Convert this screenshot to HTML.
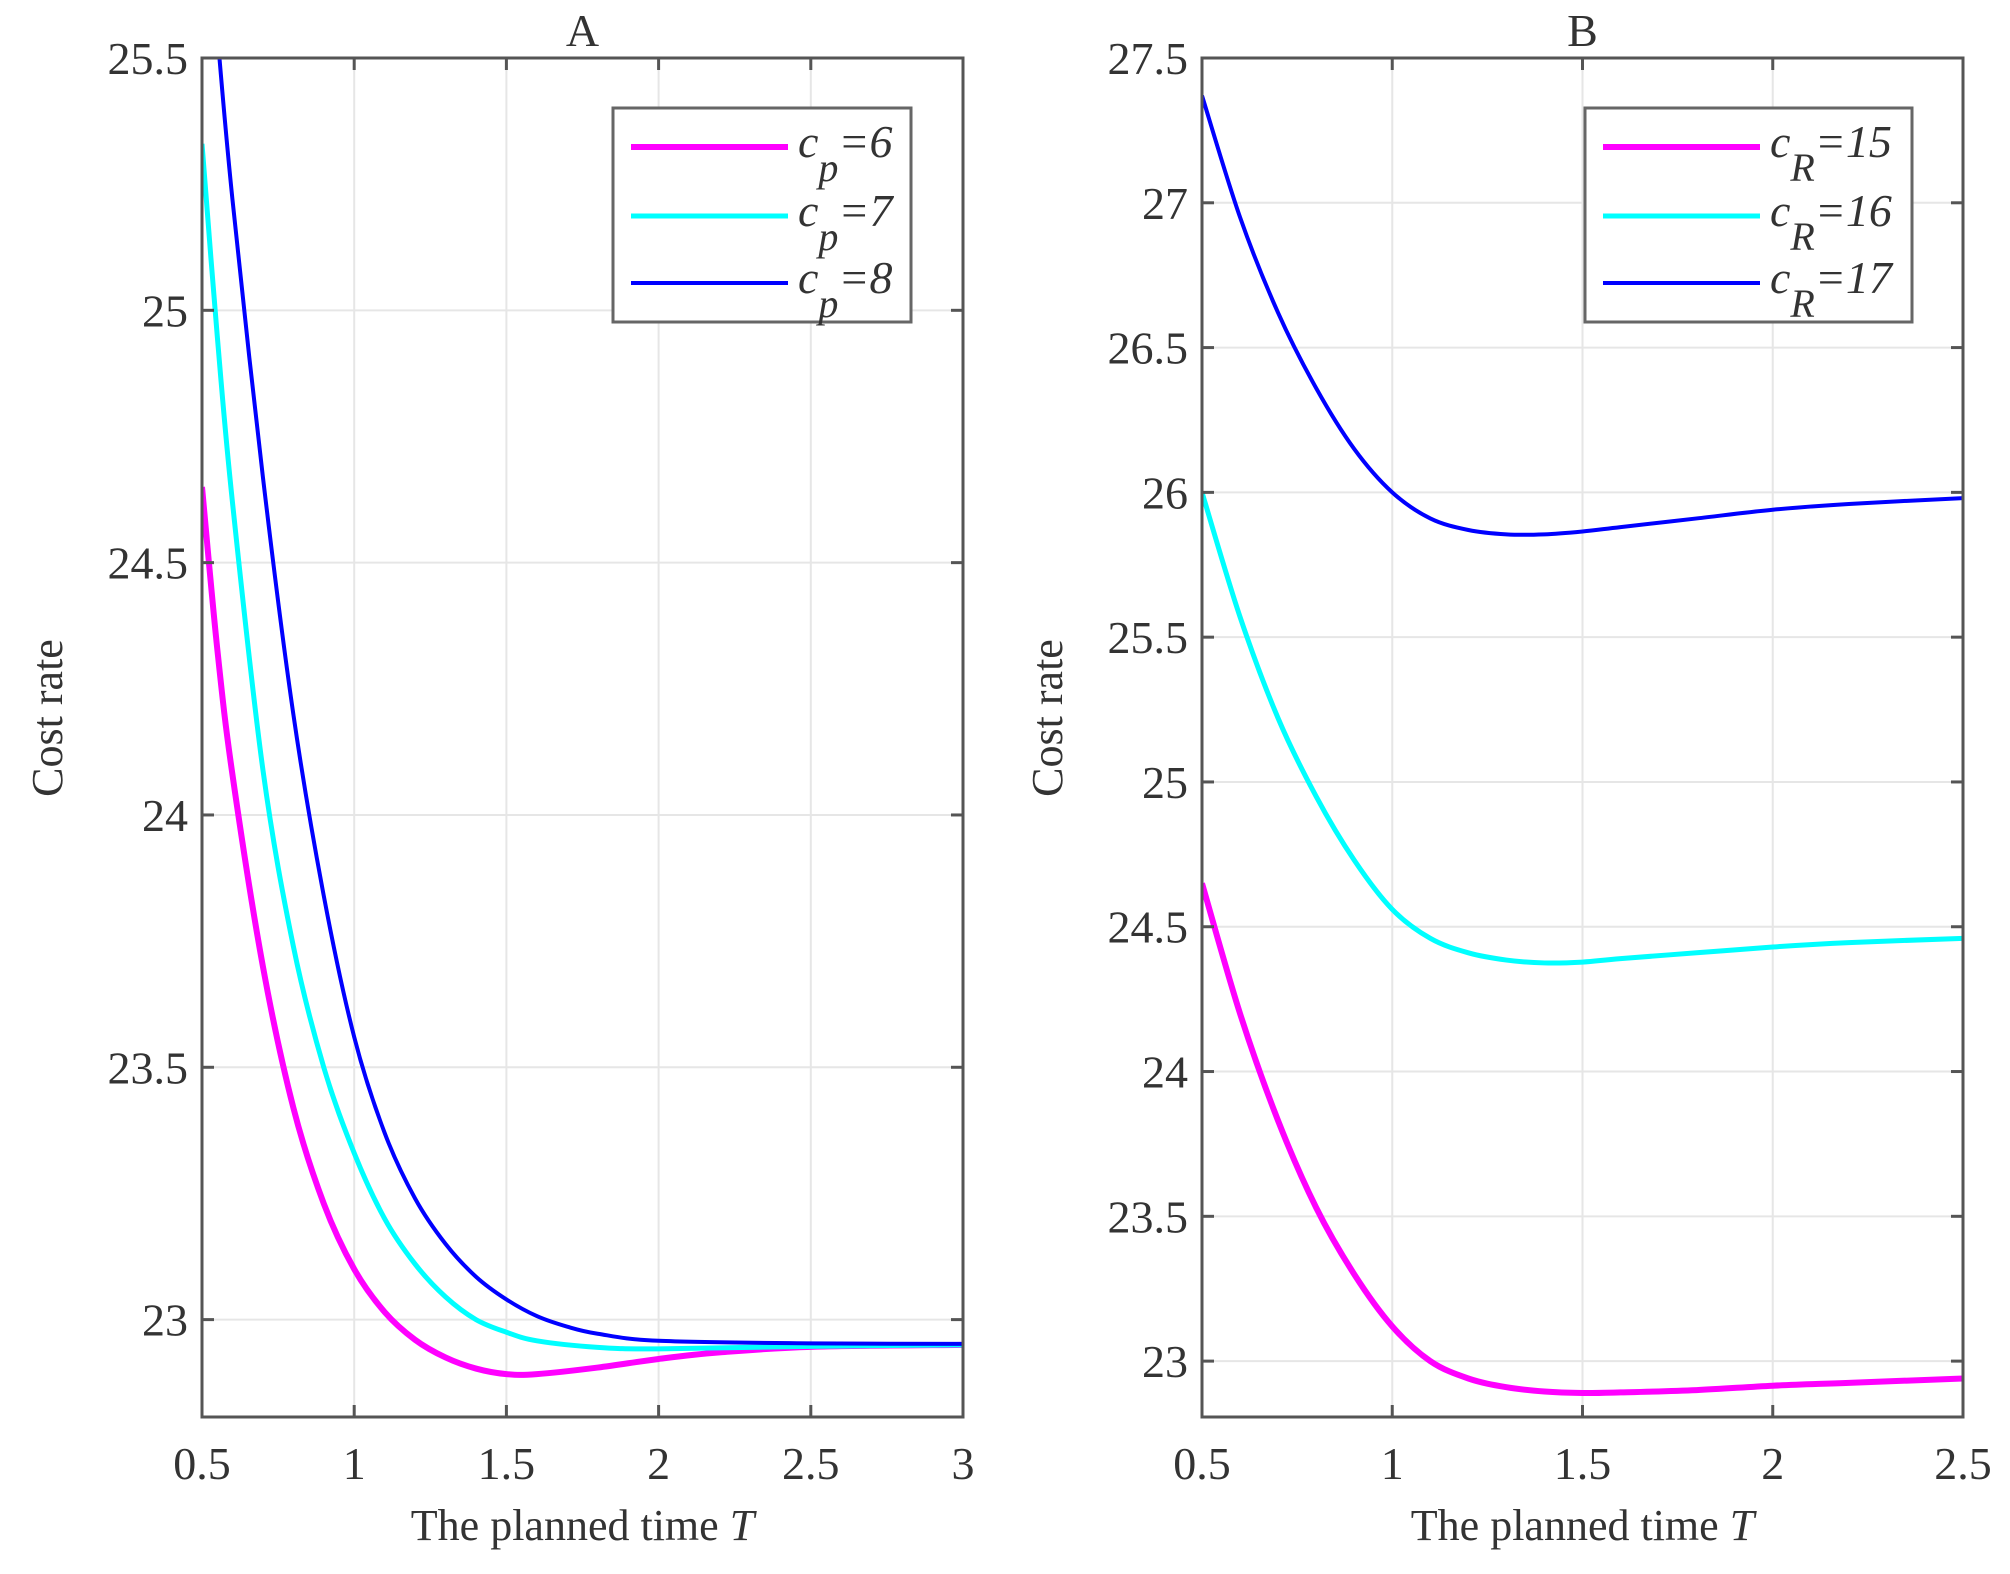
<!DOCTYPE html>
<html><head><meta charset="utf-8"><style>
html,body{margin:0;padding:0;background:#fff;}
svg{display:block;}
text{font-family:"Liberation Serif",serif;fill:#333;}
</style></head><body>
<svg id="s" width="2010" height="1574" viewBox="0 0 2010 1574" xmlns="http://www.w3.org/2000/svg"></svg>
<script>
const S=document.getElementById('s');
let out='';
function panel(o){
  const {L,R,T,B,x0,x1,y0,y1,xt,yt,title,ylx,series,leg}=o;
  const X=v=>L+(v-x0)/(x1-x0)*(R-L);
  const Y=v=>B-(v-y0)/(y1-y0)*(B-T);
  out+=`<defs><clipPath id="c${title}"><rect x="${L}" y="${T}" width="${R-L}" height="${B-T}"/></clipPath></defs>`;
  xt.forEach(v=>{out+=`<line x1="${X(v)}" x2="${X(v)}" y1="${T}" y2="${B}" stroke="#e6e6e6" stroke-width="2"/>`;});
  yt.forEach(v=>{out+=`<line x1="${L}" x2="${R}" y1="${Y(v)}" y2="${Y(v)}" stroke="#e6e6e6" stroke-width="2"/>`;});
  series.forEach(s=>{
    const p=s.pts.map(a=>[X(a[0]),Y(a[1])]);
    let d=`M${p[0][0]},${p[0][1]}`;
    for(let i=0;i<p.length-1;i++){
      const p0=p[Math.max(0,i-1)],p1=p[i],p2=p[i+1],p3=p[Math.min(p.length-1,i+2)];
      const c1=[p1[0]+(p2[0]-p0[0])/6,p1[1]+(p2[1]-p0[1])/6];
      const c2=[p2[0]-(p3[0]-p1[0])/6,p2[1]-(p3[1]-p1[1])/6];
      d+=` C${c1[0]},${c1[1]} ${c2[0]},${c2[1]} ${p2[0]},${p2[1]}`;
    }
    out+=`<path d="${d}" fill="none" stroke="${s.c}" stroke-width="${s.w}" stroke-linejoin="round" clip-path="url(#c${title})"/>`;
  });
  out+=`<rect x="${L}" y="${T}" width="${R-L}" height="${B-T}" fill="none" stroke="#555" stroke-width="3"/>`;
  xt.forEach(v=>{const x=X(v);out+=`<line x1="${x}" x2="${x}" y1="${B}" y2="${B-12}" stroke="#555" stroke-width="3"/><line x1="${x}" x2="${x}" y1="${T}" y2="${T+12}" stroke="#555" stroke-width="3"/>`;
    out+=`<text x="${x}" y="${B+62}" font-size="46" text-anchor="middle">${v}</text>`;});
  yt.forEach(v=>{const y=Y(v);out+=`<line x1="${L}" x2="${L+12}" y1="${y}" y2="${y}" stroke="#555" stroke-width="3"/><line x1="${R}" x2="${R-12}" y1="${y}" y2="${y}" stroke="#555" stroke-width="3"/>`;
    out+=`<text x="${L-14}" y="${y+16}" font-size="46" text-anchor="end">${v}</text>`;});
  out+=`<text x="${(L+R)/2}" y="46" font-size="46" text-anchor="middle">${title}</text>`;
  out+=`<text x="${(L+R)/2}" y="1540" font-size="44" text-anchor="middle">The planned time <tspan font-style="italic">T</tspan></text>`;
  out+=`<text transform="translate(${ylx},718) rotate(-90)" font-size="44" text-anchor="middle">Cost rate</text>`;
  const g=leg;
  out+=`<rect x="${g.x}" y="108" width="${g.w}" height="214" fill="#fff" stroke="#666" stroke-width="3"/>`;
  [147,216,283].forEach((y,i)=>{
    out+=`<line x1="${g.x+18}" x2="${g.x+175}" y1="${y}" y2="${y}" stroke="${series[i].c}" stroke-width="${series[i].w}"/>`;
    out+=`<text x="${g.x+185}" y="${y+10}" font-size="46" font-style="italic">c<tspan dy="24" font-size="40">${g.sub}</tspan><tspan dy="-24">=${g.vals[i]}</tspan></text>`;
  });
}
panel({L:202,R:963,T:58,B:1417,x0:0.5,x1:3,y0:22.807,y1:25.5,
 xt:[0.5,1,1.5,2,2.5,3],yt:[23,23.5,24,24.5,25,25.5],title:'A',ylx:62,
 series:[
 {c:'#ff00ff',w:6,pts:[[0.5,24.65],[0.55,24.33],[0.6,24.08],[0.7,23.7],[0.8,23.42],[0.9,23.23],[1.0,23.1],[1.1,23.015],[1.2,22.96],[1.3,22.925],[1.4,22.903],[1.5,22.892],[1.6,22.892],[1.8,22.905],[2.0,22.922],[2.2,22.935],[2.5,22.946],[3,22.95]]},
 {c:'#00ffff',w:5,pts:[[0.5,25.33],[0.55,24.95],[0.6,24.62],[0.7,24.09],[0.8,23.74],[0.9,23.5],[1.0,23.33],[1.1,23.2],[1.2,23.11],[1.3,23.045],[1.4,23.0],[1.5,22.975],[1.6,22.958],[1.8,22.945],[2.0,22.942],[2.5,22.947],[3,22.95]]},
 {c:'#0000ff',w:4,pts:[[0.52,25.75],[0.55,25.55],[0.6,25.22],[0.7,24.67],[0.8,24.2],[0.9,23.84],[1.0,23.56],[1.1,23.37],[1.2,23.24],[1.3,23.15],[1.4,23.085],[1.5,23.04],[1.6,23.007],[1.7,22.986],[1.8,22.972],[2.0,22.958],[2.5,22.953],[3,22.952]]}],
 leg:{x:613,w:298,sub:'p',vals:['6','7','8']}});
panel({L:1202,R:1963,T:58,B:1417,x0:0.5,x1:2.5,y0:22.807,y1:27.5,
 xt:[0.5,1,1.5,2,2.5],yt:[23,23.5,24,24.5,25,25.5,26,26.5,27,27.5],title:'B',ylx:1062,
 series:[
 {c:'#ff00ff',w:6,pts:[[0.5,24.65],[0.6,24.2],[0.7,23.83],[0.8,23.53],[0.9,23.3],[1.0,23.12],[1.1,23.0],[1.2,22.94],[1.3,22.91],[1.4,22.895],[1.5,22.89],[1.6,22.892],[1.8,22.9],[2.0,22.915],[2.2,22.925],[2.5,22.94]]},
 {c:'#00ffff',w:5,pts:[[0.5,26.0],[0.6,25.57],[0.7,25.22],[0.8,24.95],[0.9,24.73],[1.0,24.56],[1.1,24.46],[1.2,24.41],[1.3,24.385],[1.4,24.375],[1.5,24.378],[1.6,24.39],[1.8,24.41],[2.0,24.43],[2.2,24.445],[2.5,24.46]]},
 {c:'#0000ff',w:4,pts:[[0.5,27.37],[0.6,26.95],[0.7,26.62],[0.8,26.36],[0.9,26.15],[1.0,26.0],[1.1,25.91],[1.2,25.87],[1.3,25.855],[1.4,25.855],[1.5,25.865],[1.6,25.88],[1.8,25.91],[2.0,25.94],[2.2,25.96],[2.5,25.98]]}],
 leg:{x:1585,w:327,sub:'R',vals:['15','16','17']}});
S.innerHTML=out;
</script>
</body></html>
